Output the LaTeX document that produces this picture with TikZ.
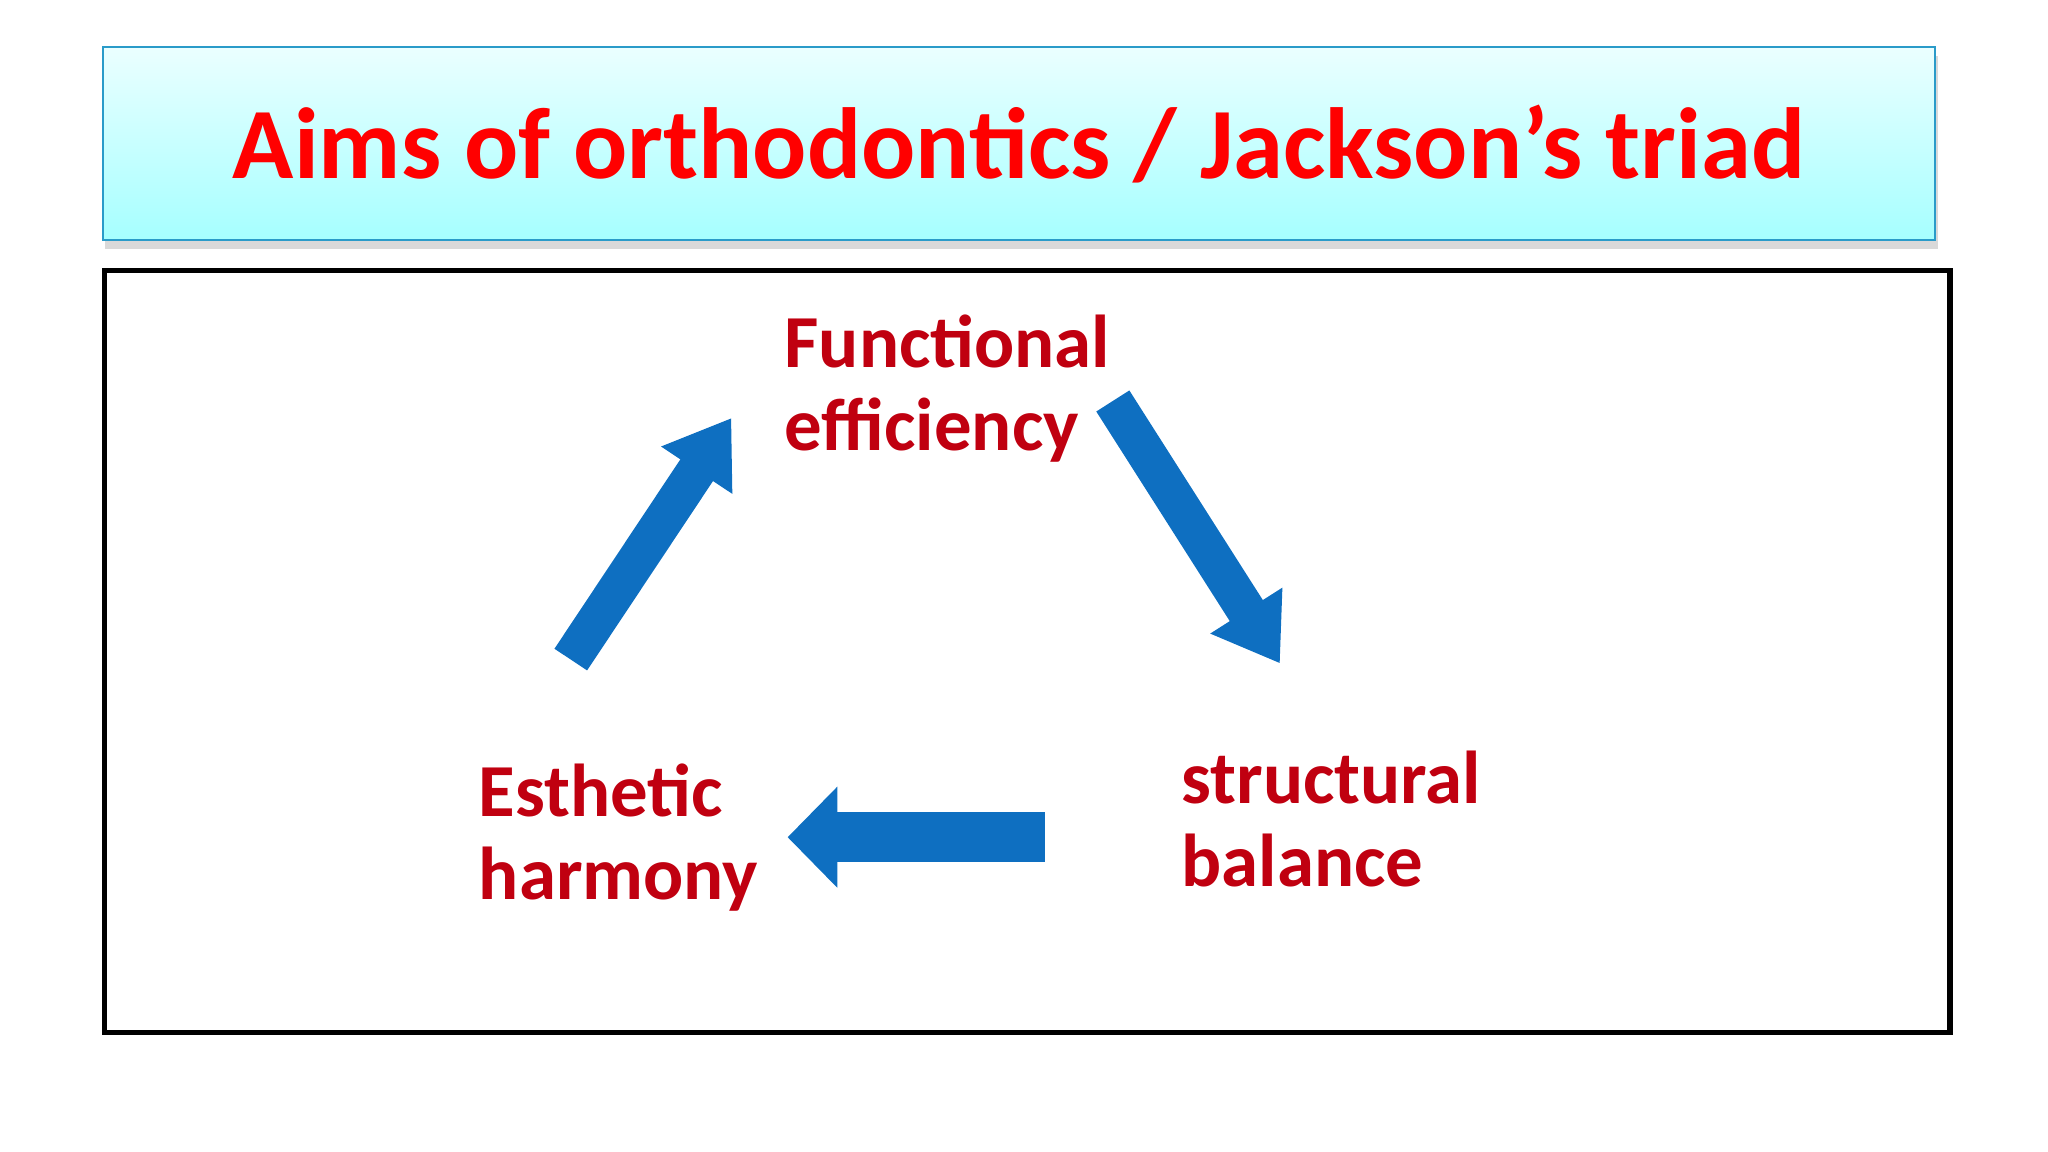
\documentclass[tikz,border=0pt]{standalone}
\usepackage{fontspec}
\setmainfont{Carlito}
\usetikzlibrary{arrows.meta,shadows}
\definecolor{ttl}{HTML}{FF0000}
\definecolor{lbl}{HTML}{C00010}
\definecolor{arr}{HTML}{0E6FC1}
\tikzset{
  lab/.style={text=lbl,font=\fontsize{16.3}{18.2}\selectfont\bfseries,align=left,anchor=north west,inner sep=0pt},
  fat/.style={arr,line width=0.3cm,-{Triangle[width=0.62cm,length=0.48cm]}}
}
\begin{document}
\begin{tikzpicture}[x=0.01cm,y=-0.01cm]
\useasboundingbox (0,0) rectangle (1568,882);
\node[draw=cyan!60!teal,line width=0.5pt,top color=cyan!8,bottom color=cyan!35,minimum width=14.02cm,minimum height=1.48cm,drop shadow={opacity=0.3,shadow xshift=0.5pt,shadow yshift=-2pt},anchor=north west,inner sep=0pt] (title) at (78,35) {};
\node[text=ttl,font=\fontsize{22}{26}\selectfont\bfseries] at (title.center) {Aims of orthodontics / Jackson’s triad};
\node[draw=black,line width=1.2pt,minimum width=14.12cm,minimum height=5.83cm,anchor=north west,inner sep=0pt] (frame) at (78,205) {};
\node[lab] (fe) at (600,240) {Functional\\efficiency};
\node[lab] (sb) at (904,574) {structural\\balance};
\node[lab] (eh) at (366,584) {Esthetic\\harmony};
\coordinate (a1s) at (437,505); \coordinate (a1e) at (560,320);
\coordinate (a2s) at (852,307); \coordinate (a2e) at (980,508);
\coordinate (a3s) at (800,641); \coordinate (a3e) at (603,641);
\draw[fat] (a1s) -- (a1e);
\draw[fat] (a2s) -- (a2e);
\draw[arr,line width=0.38cm,-{Triangle[width=0.75cm,length=0.38cm]}] (a3s) -- (a3e);
\end{tikzpicture}
\end{document}
